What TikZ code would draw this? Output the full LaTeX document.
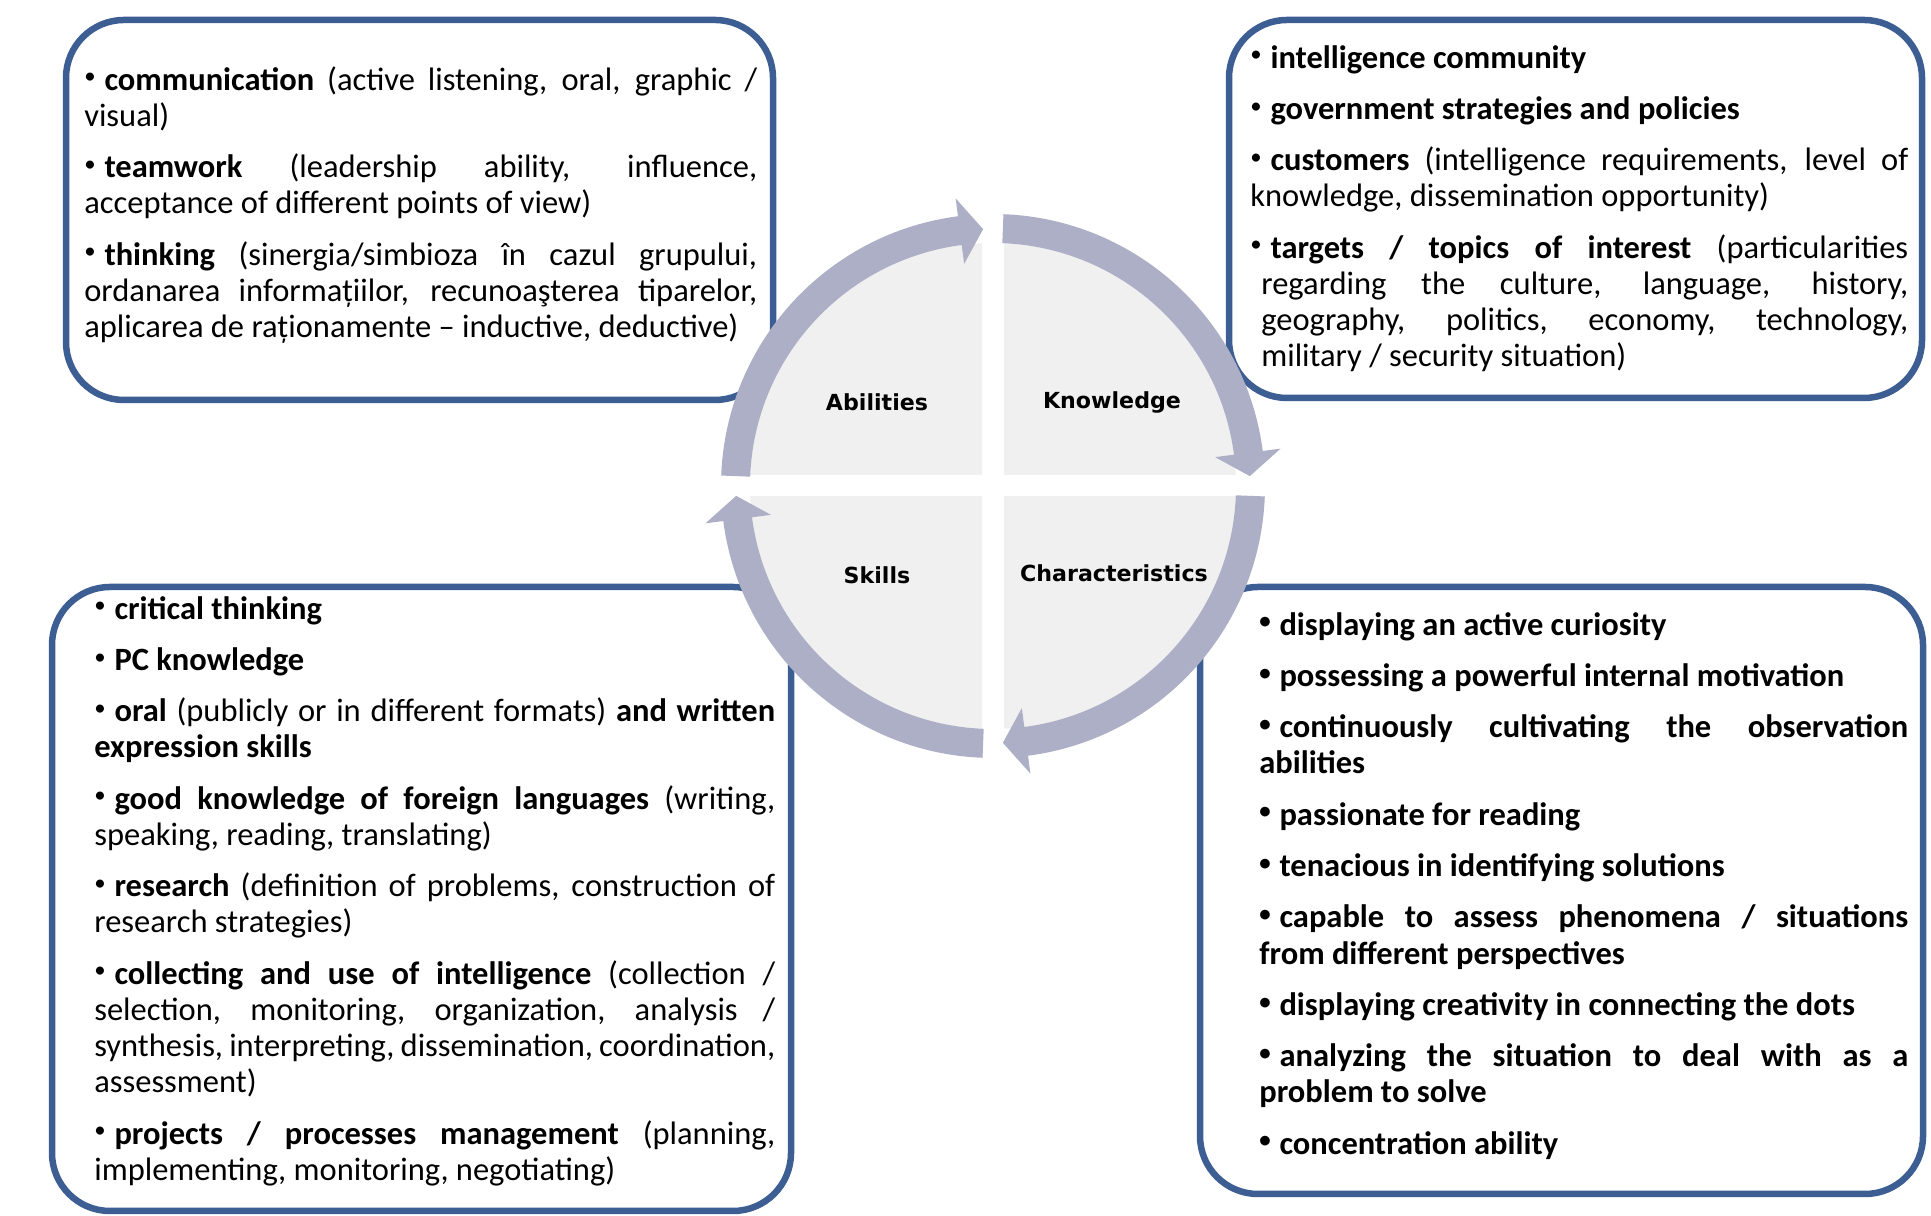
\documentclass[tikz,border=0pt]{standalone}
\usepackage{fontspec}
\setmainfont{Carlito}
\newfontfamily\lblfont{DejaVu Sans}
\usetikzlibrary{shadows}

\definecolor{boxblue}{HTML}{3C5E92}
\definecolor{ringgray}{HTML}{ADAFC6}
\definecolor{quadgray}{HTML}{F0F0F0}
\newcommand{\bul}{\raisebox{3.6pt}{\fontsize{13}{13}\selectfont\textbullet}\kern5pt}

\begin{document}
\begin{tikzpicture}[x=0.02cm, y=0.02cm,
  infobox/.style={draw=boxblue, line width=3.7pt, rounded corners=33pt, fill=white,
    drop shadow={shadow xshift=1.2pt, shadow yshift=-1.2pt, opacity=.45, fill=black}},
  listtext/.style={anchor=north west, inner sep=0pt, align=justify,
    font=\fontsize{18.5}{20.6}\selectfont},
  quadlabel/.style={font=\lblfont\bfseries\fontsize{12.6}{14}\selectfont}]
\useasboundingbox (0,0) rectangle (1931,1216);

% four boxes
\draw[infobox] (66,816) rectangle (773,1196);
\draw[infobox] (1229,818) rectangle (1922,1196);
\draw[infobox] (52,5) rectangle (791,629);
\draw[infobox] (1200,22) rectangle (1923,629);

% box texts
\node[listtext, text width=13.46cm] (abiltext) at (84,1150) {\setlength{\parskip}{8.6pt}\parindent=0pt
\bul\textbf{communication} (active listening, oral, graphic /\linebreak visual)\par
\bul\textbf{teamwork} (leadership ability, influence,\linebreak acceptance of different points of view)\par
\bul\textbf{thinking} (sinergia/simbioza în cazul grupului,\linebreak ordanarea informațiilor, recunoaşterea tiparelor,\linebreak aplicarea de raționamente -- inductive, deductive)};

\node[listtext, text width=13.16cm] (knowtext) at (1250,1171) {\setlength{\parskip}{8.6pt}\parindent=0pt
\bul\textbf{intelligence community}\par
\bul\textbf{government strategies and policies}\par
\bul\textbf{customers} (intelligence requirements, level of\linebreak knowledge, dissemination opportunity)\par
{\leftskip=0.22cm\hskip-0.22cm\bul\textbf{targets / topics of interest} (particularities\linebreak regarding the culture, language, history,\linebreak geography, politics, economy, technology,\linebreak military / security situation)\par}};

\node[listtext, text width=13.62cm] (skiltext) at (94,620) {\setlength{\parskip}{8.6pt}\parindent=0pt
\bul\textbf{critical thinking}\par
\bul\textbf{PC knowledge}\par
\bul\textbf{oral} (publicly or in different formats) \textbf{and written}\linebreak \textbf{expression skills}\par
\bul\textbf{good knowledge of foreign languages} (writing,\linebreak speaking, reading, translating)\par
\bul\textbf{research} (definition of problems, construction of\linebreak research strategies)\par
\bul\textbf{collecting and use of intelligence} (collection /\linebreak selection, monitoring, organization, analysis /\linebreak synthesis, interpreting, dissemination, coordination,\linebreak assessment)\par
\bul\textbf{projects / processes management} (planning,\linebreak implementing, monitoring, negotiating)};

\node[listtext, text width=12.98cm] (chartext) at (1259,604) {\setlength{\parskip}{8.6pt}\parindent=0pt\bfseries
\bul displaying an active curiosity\par
\bul possessing a powerful internal motivation\par
\bul continuously cultivating the observation\linebreak abilities\par
\bul passionate for reading\par
\bul tenacious in identifying solutions\par
\bul capable to assess phenomena / situations\linebreak from different perspectives\par
\bul displaying creativity in connecting the dots\par
\bul analyzing the situation to deal with as a\linebreak problem to solve\par
\bul concentration ability};

% cycle
\coordinate (c) at (993,730);
\begin{scope}[shift={(c)}]
  \foreach \sx/\sy in {1/1,-1/1,-1/-1,1/-1} {
    \begin{scope}
      \clip ({11*\sx},{11*\sy}) rectangle ({300*\sx},{300*\sy});
      \fill[quadgray] (0,0) circle (243);
    \end{scope}
  }
  \foreach \a in {180,90,0,-90}
    \fill[ringgray] ({\a-2.2}:272) arc[start angle=\a-2.2, end angle=\a-82.6, radius=272]
      -- ({\a-82.6}:290) -- ({\a-87.8}:257) -- ({\a-82.6}:224)
      -- ({\a-82.6}:243) arc[start angle=\a-82.6, end angle=\a-2.2, radius=243] -- cycle;
\end{scope}

\node[quadlabel] (abil) at (877,814) {Abilities};
\node[quadlabel] (know) at (1112,814) {Knowledge};
\node[quadlabel] (skil) at (877,641) {Skills};
\node[quadlabel] (char) at (1114,643) {Characteristics};
\end{tikzpicture}
\end{document}
